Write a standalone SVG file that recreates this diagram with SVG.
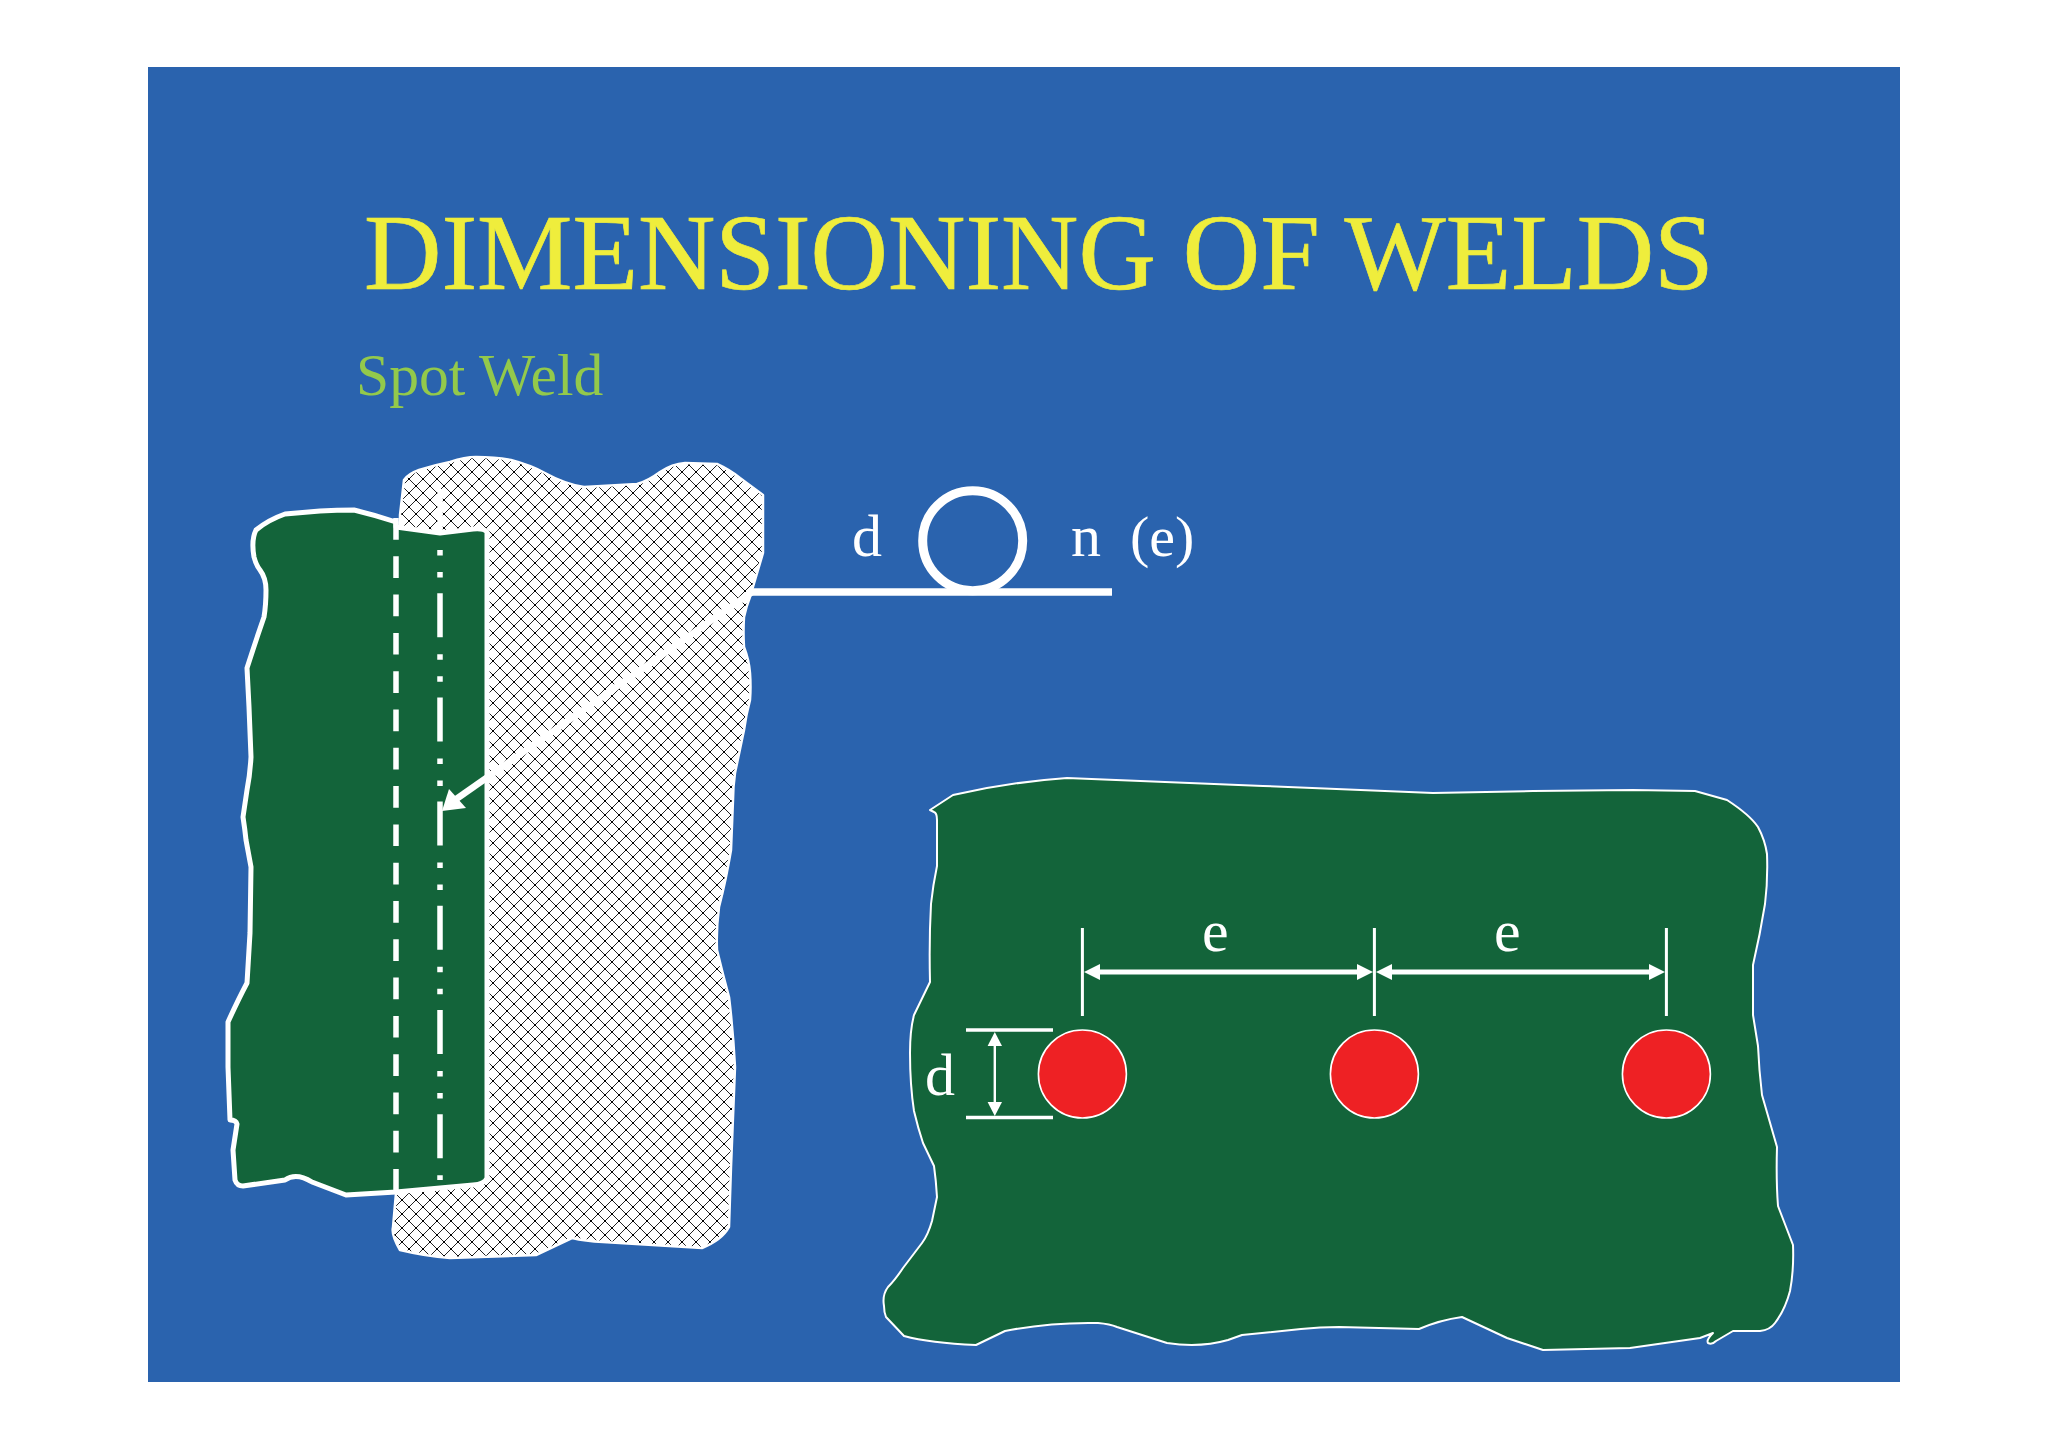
<svg xmlns="http://www.w3.org/2000/svg" width="2048" height="1448" viewBox="0 0 2048 1448">
<style>
.t{font-family:"Liberation Serif","Times New Roman",serif;fill:#fff;font-size:60px}
.w{stroke:#fff;fill:none}
.h{fill:#fff;stroke:none}
</style>
<defs>
<pattern id="hatch" patternUnits="userSpaceOnUse" width="14" height="14" x="3" y="3">
<rect width="14" height="14" fill="#fff"/>
<path d="M0 0L14 14M14 0L0 14" stroke="#222" stroke-width="1.1" fill="none" shape-rendering="crispEdges"/>
<rect x="6" y="6" width="2" height="2" fill="#000"/>
<rect x="0" y="0" width="1" height="1" fill="#000"/>
<rect x="13" y="0" width="1" height="1" fill="#000"/>
<rect x="0" y="13" width="1" height="1" fill="#000"/>
<rect x="13" y="13" width="1" height="1" fill="#000"/>
</pattern>
</defs>
<rect width="2048" height="1448" fill="#fff"/>
<rect id="panel" x="148" y="67" width="1752" height="1315" fill="#2a63ae"/>
<g id="title">
<text x="364" y="289" font-family="'Liberation Serif','Times New Roman',serif" font-size="107.2" fill="#efed3c" stroke="#efed3c" stroke-width="0.7">DIMENSIONING OF WELDS</text>
<text x="356" y="395" font-family="'Liberation Serif','Times New Roman',serif" font-size="59.6" fill="#93c94b">Spot Weld</text>
</g>
<g id="hatched-plate">
<path fill="url(#hatch)" stroke="#fff" stroke-width="2.5" stroke-linejoin="round" d="M400 515L404 480Q408 474 419 470Q435 465 450 462Q465 457 476 457Q495 457 511 460Q530 465 545 473Q565 484 584 487L637 484Q648 481 660 472Q672 464 685 463L717 464Q730 470 740 478L763 495L763 553L750 597Q746 607 744 617Q743 632 744 647Q749 660 750 673Q751 687 750 700Q746 715 744 730L735 773Q733 787 733 800L731 850Q726 880 719 907Q716 930 717 950Q723 975 729 997Q733 1030 735 1067L731 1167L729 1227Q722 1240 702 1248L603 1242Q585 1241 572 1238Q555 1246 536 1255L450 1258Q425 1256 400 1250Q391 1235 393 1227L396 1193Z"/>
</g>
<g id="left-plate">
<path fill="#13643a" stroke="#fff" stroke-width="5" stroke-linejoin="round" d="M396 522Q375 515 354 510Q337 510 320 511L285 514Q268 520 256 530Q251 540 254 557Q256 565 260 570Q266 578 266 590Q266 605 264 617Q256 640 247 668L249 707L251 757Q250 775 247 790L243 817Q245 830 246 840L251 867L250 933L247 983Q238 1000 228 1022L228 1067L230 1120Q236 1120 237 1124L235 1137L233 1150L235 1180Q237 1186 243 1186L285 1180Q296 1172 312 1182Q325 1187 346 1195L396 1192L473 1185Q485 1184 487 1178L487 532Q484 528 473 529L440 533L396 527Z"/>
<path class="w" stroke-width="5.5" stroke-dasharray="21.7 16.6" d="M396 518V1192"/>
<path class="w" stroke-width="5.5" stroke-dasharray="44 17 5.5 16.5 5.5 15.7" d="M440 489V1180"/>
</g>
<g id="right-plate">
<path fill="#13643a" stroke="#fff" stroke-width="2" stroke-linejoin="round" d="M930 810L934 812Q937 813 937 820L937 866Q933 885 931 904Q929 940 930 982L914 1015Q910 1030 910 1053Q910 1085 914 1111Q918 1128 923 1143L934 1166Q936 1180 937 1197L932 1221Q928 1235 922 1243L903 1268Q895 1280 888 1287Q882 1295 884 1306Q884 1312 886 1317L904 1336Q930 1343 976 1345L1005 1331Q1050 1322 1098 1323Q1110 1324 1117 1327L1167 1343Q1200 1348 1228 1340L1242 1335L1301 1329Q1320 1327 1339 1327L1419 1329Q1440 1320 1462 1317L1507 1338L1543 1350L1630 1348L1700 1338L1713 1333Q1706 1340 1708 1343Q1712 1345 1716 1341L1733 1331L1760 1331Q1770 1330 1775 1323Q1785 1310 1790 1291Q1794 1270 1793 1245L1778 1206Q1776 1180 1777 1147L1762 1095Q1759 1070 1758 1046L1753 1015L1753 965Q1760 935 1765 904Q1768 880 1767 854Q1765 840 1758 827Q1750 815 1727 800L1695 791L1633 790L1533 791L1433 793L1263 786L1067 778Q1010 782 953 795Z"/>
</g>
<g id="spot-1"><circle cx="1082.4" cy="1074" r="44" fill="#ee2124" stroke="#fff" stroke-width="1.6"/></g>
<g id="spot-2"><circle cx="1374.4" cy="1074" r="44" fill="#ee2124" stroke="#fff" stroke-width="1.6"/></g>
<g id="spot-3"><circle cx="1666.4" cy="1074" r="44" fill="#ee2124" stroke="#fff" stroke-width="1.6"/></g>
<g id="connectors">
<path class="w" stroke-width="7.6" d="M750 592H1112"/>
<circle class="w" cx="972.7" cy="540.7" r="50" stroke-width="9"/>
<path class="w" stroke-width="6.6" d="M752 592L452 802"/>
<polygon class="h" points="442,811 449,789 466,808"/>
<path class="w" stroke-width="3" d="M1082.4 928V1016M1374.4 928V1016M1666.4 928V1016"/>
<path class="w" stroke-width="5.2" d="M1095 972H1360M1388 972H1655"/>
<polygon class="h" points="1084,972 1100,964 1100,980"/>
<polygon class="h" points="1373,972 1357,964 1357,980"/>
<polygon class="h" points="1376,972 1392,964 1392,980"/>
<polygon class="h" points="1665,972 1649,964 1649,980"/>
<path class="w" stroke-width="3.5" d="M966 1030H1053M966 1117.5H1053"/>
<path class="w" stroke-width="2.4" d="M994.8 1040V1107"/>
<polygon class="h" points="994.8,1032 1002,1046 987.6,1046"/>
<polygon class="h" points="994.8,1116 1002,1102 987.6,1102"/>
</g>
<g id="labels">
<text class="t" x="852" y="556">d</text>
<text class="t" x="1071" y="556">n</text>
<text class="t" x="1130" y="556" style="font-size:58px">(e)</text>
<text class="t" x="925" y="1095">d</text>
<text class="t" x="1202" y="951">e</text>
<text class="t" x="1494" y="951">e</text>
</g>
</svg>
